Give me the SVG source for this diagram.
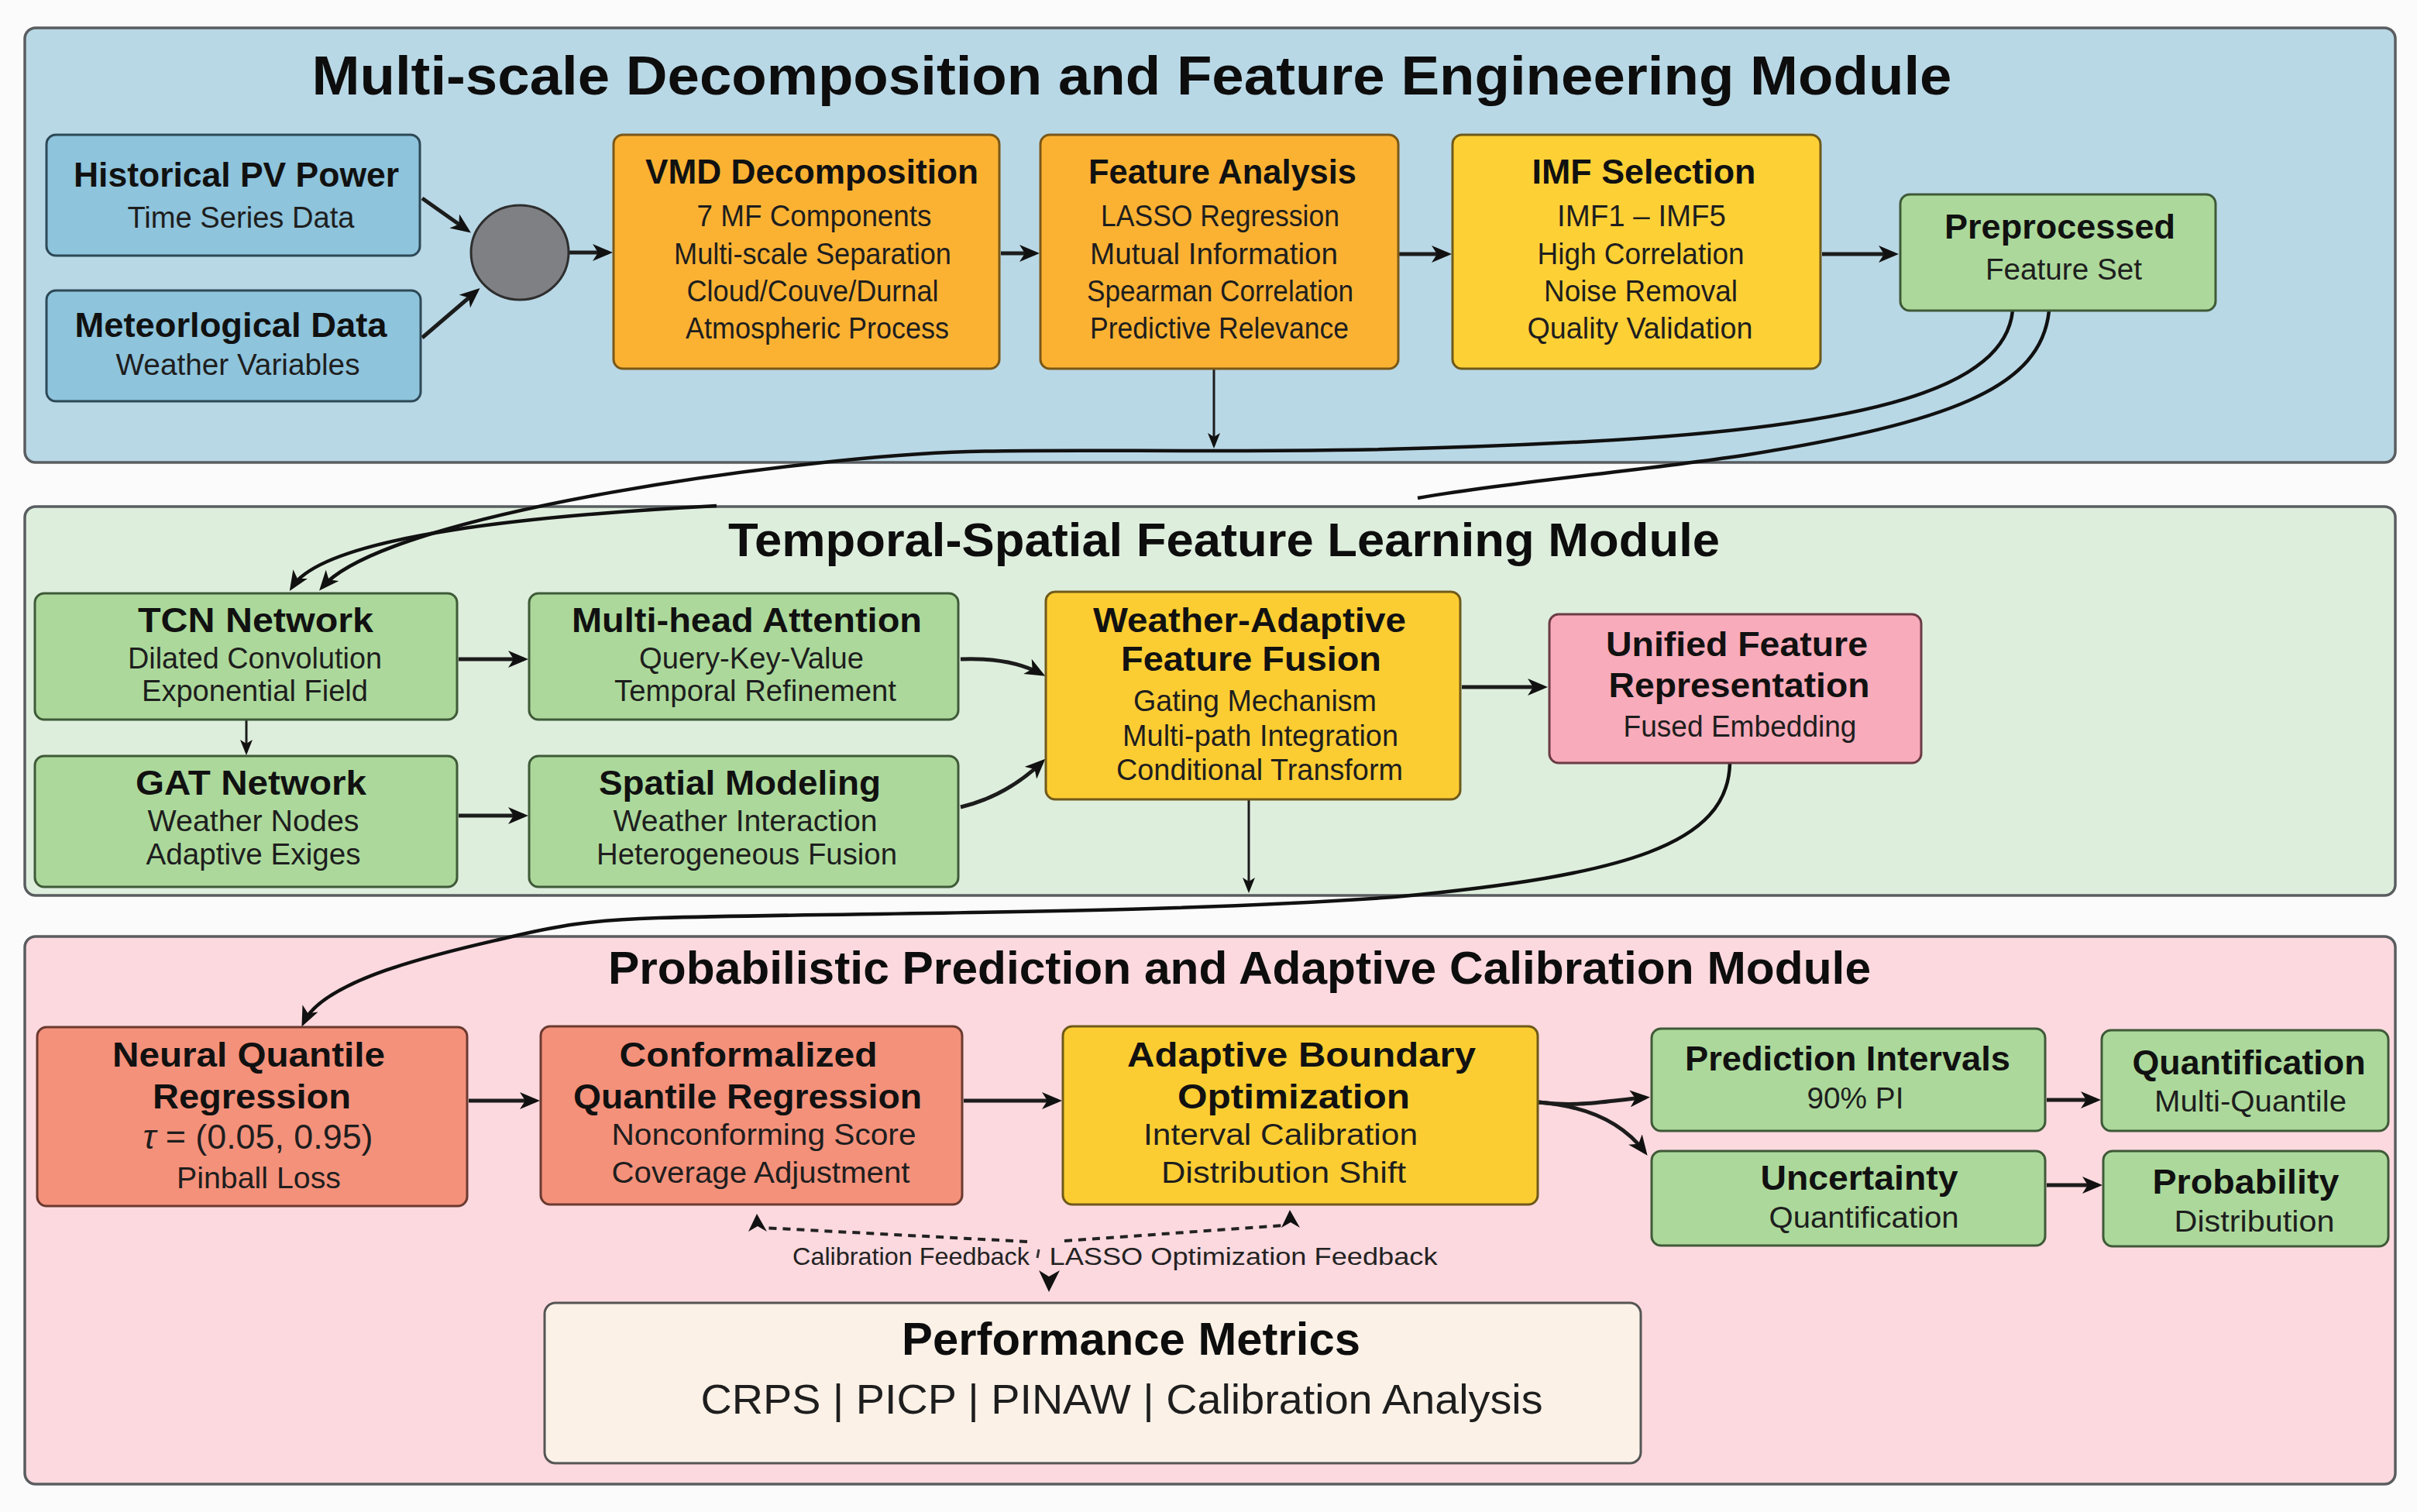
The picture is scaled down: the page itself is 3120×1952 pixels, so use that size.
<svg xmlns="http://www.w3.org/2000/svg" width="3120" height="1952" viewBox="0 0 3120 1952">
<defs>
<style>
.t{font-family:"Liberation Sans",Arial,Helvetica,sans-serif;text-anchor:middle}
.h{font-weight:bold;fill:#0d0d0d}
.b{font-weight:bold;font-size:45px;fill:#111}
.s{font-size:38px;fill:#1e1e1e}
.panel{stroke:#5a5d60;stroke-width:3.5}
.nd{stroke-width:3}
.blue{fill:#8ec4dc;stroke:#2d4856}
.orange{fill:#fbb233;stroke:#7a5818}
.yellow{fill:#fdd036;stroke:#6f5a1a}
.green{fill:#acd99b;stroke:#3f5a38}
.pink{fill:#f8abba;stroke:#6b3b46}
.salmon{fill:#f4917b;stroke:#6b3a30}
.cream{fill:#fbf1e7;stroke:#555}
.c{fill:none;stroke:#1c1c1c;stroke-width:5;marker-end:url(#ah)}
.cv{fill:none;stroke:#111;stroke-width:4.5;marker-end:url(#ah)}
.thin{fill:none;stroke:#1c1c1c;stroke-width:3;marker-end:url(#ahs)}
.dash{fill:none;stroke:#222;stroke-width:4;stroke-dasharray:10 8}
.ahd{fill:#111}
</style>
<marker id="ah" viewBox="0 0 26 22" markerWidth="26" markerHeight="22" refX="20" refY="11" orient="auto" markerUnits="userSpaceOnUse"><path d="M0,0 L26,11 L0,22 L7,11 z" fill="#111"/></marker>
<marker id="ahs" viewBox="0 0 20 16" markerWidth="20" markerHeight="16" refX="16" refY="8" orient="auto" markerUnits="userSpaceOnUse"><path d="M0,0 L20,8 L0,16 L5,8 z" fill="#111"/></marker>
</defs>

<rect x="0" y="0" width="3120" height="1952" fill="#fbfbfb"/>

<g id="panels">
<rect class="panel" x="32" y="36" width="3060" height="561" rx="14" fill="#b9d8e6"/>
<rect class="panel" x="32" y="654" width="3060" height="502" rx="14" fill="#deeedd"/>
<rect class="panel" x="32" y="1209" width="3060" height="707" rx="14" fill="#fcd9df"/>
<text class="t h" x="1461" y="122" font-size="70" textLength="2117" lengthAdjust="spacingAndGlyphs">Multi-scale Decomposition and Feature Engineering Module</text>
<text class="t h" x="1580" y="718" font-size="62" textLength="1280" lengthAdjust="spacingAndGlyphs">Temporal-Spatial Feature Learning Module</text>
<text class="t h" x="1600" y="1270" font-size="59" textLength="1630" lengthAdjust="spacingAndGlyphs">Probabilistic Prediction and Adaptive Calibration Module</text>
</g>

<g id="connectors">
<line class="c" x1="545" y1="256" x2="603" y2="297"/>
<line class="c" x1="545" y1="436" x2="615" y2="376"/>
<line class="c" x1="735" y1="326" x2="785" y2="326"/>
<line class="c" x1="1292" y1="327" x2="1336" y2="327"/>
<line class="c" x1="1806" y1="328" x2="1868" y2="328"/>
<line class="c" x1="2352" y1="328" x2="2445" y2="328"/>
<line class="thin" x1="1567" y1="477" x2="1567" y2="575"/>
<path class="cv" d="M2598,401 C2588,500 2420,550 2050,570 C1680,590 1450,578 1250,583 C1050,588 500,660 416,758"/>
<path class="cv" d="M2645,401 C2635,500 2520,545 2250,588 C2100,610 1950,622 1830,643 M925,653 C700,665 420,690 377,758"/>
<line class="c" x1="592" y1="851" x2="676" y2="851"/>
<line class="thin" x1="318" y1="930" x2="318" y2="971"/>
<line class="c" x1="592" y1="1053" x2="676" y2="1053"/>
<path class="c" d="M1240,851 C1290,849 1322,858 1344,870"/>
<path class="c" d="M1240,1042 C1290,1030 1322,1006 1345,984"/>
<line class="c" x1="1887" y1="887" x2="1992" y2="887"/>
<line class="thin" x1="1612" y1="1033" x2="1612" y2="1149"/>
<path class="cv" d="M2233,986 C2230,1090 2100,1130 1800,1158 C1500,1180 1100,1178 850,1185 C760,1188 720,1195 657,1210 C594,1225 420,1260 392,1320"/>
<line class="c" x1="605" y1="1421" x2="691" y2="1421"/>
<line class="c" x1="1244" y1="1421" x2="1365" y2="1421"/>
<path class="c" d="M1986,1423 C2040,1430 2080,1420 2124,1417"/>
<path class="c" d="M1986,1423 C2050,1428 2095,1450 2123,1487"/>
<line class="c" x1="2642" y1="1420" x2="2706" y2="1420"/>
<line class="c" x1="2642" y1="1530" x2="2708" y2="1530"/>
<path class="dash" d="M1326,1603 L985,1585"/>
<path class="dash" d="M1374,1602 L1657,1582"/>
<polygon class="ahd" points="977,1567 966,1590 978,1583 990,1590"/>
<polygon class="ahd" points="1665,1562 1654,1585 1666,1578 1678,1585"/>
<polygon class="ahd" points="1354,1668 1341,1640 1354,1648 1368,1640"/>
<line x1="1341" y1="1613" x2="1339" y2="1624" stroke="#333" stroke-width="3"/>
<text class="t" x="1176" y="1633" font-size="32" fill="#222" textLength="306" lengthAdjust="spacingAndGlyphs">Calibration Feedback</text>
<text class="t" x="1605" y="1633" font-size="32" fill="#222" textLength="501" lengthAdjust="spacingAndGlyphs">LASSO Optimization Feedback</text>
</g>

<g id="n-hpv">
<rect class="nd blue" x="60" y="174" width="482" height="156" rx="12"/>
<text class="t b" x="305" y="241" textLength="420" lengthAdjust="spacingAndGlyphs">Historical PV Power</text>
<text class="t s" x="311" y="294" textLength="293" lengthAdjust="spacingAndGlyphs">Time Series Data</text>
</g>
<g id="n-met">
<rect class="nd blue" x="60" y="375" width="483" height="143" rx="12"/>
<text class="t b" x="298" y="435" textLength="403" lengthAdjust="spacingAndGlyphs">Meteorlogical Data</text>
<text class="t s" x="307" y="484" textLength="315" lengthAdjust="spacingAndGlyphs">Weather Variables</text>
</g>
<g id="n-join">
<ellipse cx="671" cy="326" rx="63" ry="61" fill="#7f8084" stroke="#2e2e2e" stroke-width="3"/>
</g>
<g id="n-vmd">
<rect class="nd orange" x="792" y="174" width="498" height="302" rx="12"/>
<text class="t b" x="1048" y="237" textLength="430" lengthAdjust="spacingAndGlyphs">VMD Decomposition</text>
<text class="t s" x="1051" y="292" textLength="303" lengthAdjust="spacingAndGlyphs">7 MF Components</text>
<text class="t s" x="1049" y="341" textLength="358" lengthAdjust="spacingAndGlyphs">Multi-scale Separation</text>
<text class="t s" x="1049" y="389" textLength="325" lengthAdjust="spacingAndGlyphs">Cloud/Couve/Durnal</text>
<text class="t s" x="1055" y="437" textLength="340" lengthAdjust="spacingAndGlyphs">Atmospheric Process</text>
</g>
<g id="n-fa">
<rect class="nd orange" x="1343" y="174" width="462" height="302" rx="12"/>
<text class="t b" x="1578" y="237" textLength="346" lengthAdjust="spacingAndGlyphs">Feature Analysis</text>
<text class="t s" x="1575" y="292" textLength="308" lengthAdjust="spacingAndGlyphs">LASSO Regression</text>
<text class="t s" x="1567" y="341" textLength="320" lengthAdjust="spacingAndGlyphs">Mutual Information</text>
<text class="t s" x="1575" y="389" textLength="344" lengthAdjust="spacingAndGlyphs">Spearman Correlation</text>
<text class="t s" x="1574" y="437" textLength="334" lengthAdjust="spacingAndGlyphs">Predictive Relevance</text>
</g>
<g id="n-imf">
<rect class="nd yellow" x="1875" y="174" width="475" height="302" rx="12"/>
<text class="t b" x="2122" y="237" textLength="289" lengthAdjust="spacingAndGlyphs">IMF Selection</text>
<text class="t s" x="2119" y="292" textLength="218" lengthAdjust="spacingAndGlyphs">IMF1 – IMF5</text>
<text class="t s" x="2118" y="341" textLength="267" lengthAdjust="spacingAndGlyphs">High Correlation</text>
<text class="t s" x="2118" y="389" textLength="250" lengthAdjust="spacingAndGlyphs">Noise Removal</text>
<text class="t s" x="2117" y="437" textLength="291" lengthAdjust="spacingAndGlyphs">Quality Validation</text>
</g>
<g id="n-pre">
<rect class="nd green" x="2453" y="251" width="407" height="150" rx="12"/>
<text class="t b" x="2659" y="308" textLength="298" lengthAdjust="spacingAndGlyphs">Preprocessed</text>
<text class="t s" x="2664" y="361" textLength="202" lengthAdjust="spacingAndGlyphs">Feature Set</text>
</g>

<g id="n-tcn">
<rect class="nd green" x="45" y="766" width="545" height="163" rx="12"/>
<text class="t b" x="330" y="816" font-size="47" textLength="304" lengthAdjust="spacingAndGlyphs">TCN Network</text>
<text class="t s" x="329" y="863" textLength="328" lengthAdjust="spacingAndGlyphs">Dilated Convolution</text>
<text class="t s" x="329" y="905" textLength="292" lengthAdjust="spacingAndGlyphs">Exponential Field</text>
</g>
<g id="n-mha">
<rect class="nd green" x="683" y="766" width="554" height="163" rx="12"/>
<text class="t b" x="964" y="816" font-size="47" textLength="452" lengthAdjust="spacingAndGlyphs">Multi-head Attention</text>
<text class="t s" x="970" y="863" textLength="290" lengthAdjust="spacingAndGlyphs">Query-Key-Value</text>
<text class="t s" x="975" y="905" textLength="364" lengthAdjust="spacingAndGlyphs">Temporal Refinement</text>
</g>
<g id="n-gat">
<rect class="nd green" x="45" y="976" width="545" height="169" rx="12"/>
<text class="t b" x="324" y="1026" font-size="47" textLength="298" lengthAdjust="spacingAndGlyphs">GAT Network</text>
<text class="t s" x="327" y="1073" textLength="273" lengthAdjust="spacingAndGlyphs">Weather Nodes</text>
<text class="t s" x="327" y="1116" textLength="277" lengthAdjust="spacingAndGlyphs">Adaptive Exiges</text>
</g>
<g id="n-sm">
<rect class="nd green" x="683" y="976" width="554" height="169" rx="12"/>
<text class="t b" x="955" y="1026" font-size="47" textLength="364" lengthAdjust="spacingAndGlyphs">Spatial Modeling</text>
<text class="t s" x="962" y="1073" textLength="341" lengthAdjust="spacingAndGlyphs">Weather Interaction</text>
<text class="t s" x="964" y="1116" textLength="388" lengthAdjust="spacingAndGlyphs">Heterogeneous Fusion</text>
</g>
<g id="n-waff">
<rect class="nd yellow" x="1350" y="764" width="535" height="268" rx="12" style="fill:#fccd33"/>
<text class="t b" x="1613" y="816" font-size="47" textLength="404" lengthAdjust="spacingAndGlyphs">Weather-Adaptive</text>
<text class="t b" x="1615" y="866" font-size="47" textLength="336" lengthAdjust="spacingAndGlyphs">Feature Fusion</text>
<text class="t s" x="1620" y="918" textLength="314" lengthAdjust="spacingAndGlyphs">Gating Mechanism</text>
<text class="t s" x="1627" y="963" textLength="356" lengthAdjust="spacingAndGlyphs">Multi-path Integration</text>
<text class="t s" x="1626" y="1007" textLength="370" lengthAdjust="spacingAndGlyphs">Conditional Transform</text>
</g>
<g id="n-ufr">
<rect class="nd pink" x="2000" y="793" width="480" height="192" rx="12"/>
<text class="t b" x="2242" y="847" font-size="47" textLength="338" lengthAdjust="spacingAndGlyphs">Unified Feature</text>
<text class="t b" x="2245" y="900" font-size="47" textLength="337" lengthAdjust="spacingAndGlyphs">Representation</text>
<text class="t s" x="2246" y="951" textLength="301" lengthAdjust="spacingAndGlyphs">Fused Embedding</text>
</g>

<g id="n-nqr">
<rect class="nd salmon" x="48" y="1326" width="555" height="231" rx="12"/>
<text class="t b" x="321" y="1377" font-size="47" textLength="352" lengthAdjust="spacingAndGlyphs">Neural Quantile</text>
<text class="t b" x="325" y="1431" font-size="47" textLength="256" lengthAdjust="spacingAndGlyphs">Regression</text>
<text class="t" x="333" y="1483" font-size="44" fill="#1e1e1e" textLength="297" lengthAdjust="spacingAndGlyphs"><tspan font-style="italic">τ</tspan> = (0.05, 0.95)</text>
<text class="t s" x="334" y="1534" textLength="212" lengthAdjust="spacingAndGlyphs">Pinball Loss</text>
</g>
<g id="n-cqr">
<rect class="nd salmon" x="698" y="1325" width="544" height="230" rx="12"/>
<text class="t b" x="966" y="1377" font-size="47" textLength="333" lengthAdjust="spacingAndGlyphs">Conformalized</text>
<text class="t b" x="965" y="1431" font-size="47" textLength="450" lengthAdjust="spacingAndGlyphs">Quantile Regression</text>
<text class="t s" x="986" y="1478" textLength="393" lengthAdjust="spacingAndGlyphs">Nonconforming Score</text>
<text class="t s" x="982" y="1527" textLength="385" lengthAdjust="spacingAndGlyphs">Coverage Adjustment</text>
</g>
<g id="n-abo">
<rect class="nd yellow" x="1372" y="1325" width="613" height="230" rx="12" style="fill:#fccd33"/>
<text class="t b" x="1680" y="1377" font-size="47" textLength="450" lengthAdjust="spacingAndGlyphs">Adaptive Boundary</text>
<text class="t b" x="1670" y="1431" font-size="47" textLength="300" lengthAdjust="spacingAndGlyphs">Optimization</text>
<text class="t s" x="1653" y="1478" textLength="354" lengthAdjust="spacingAndGlyphs">Interval Calibration</text>
<text class="t s" x="1657" y="1527" textLength="316" lengthAdjust="spacingAndGlyphs">Distribution Shift</text>
</g>
<g id="n-pi">
<rect class="nd green" x="2132" y="1328" width="508" height="132" rx="12"/>
<text class="t b" x="2385" y="1382" textLength="420" lengthAdjust="spacingAndGlyphs">Prediction Intervals</text>
<text class="t s" x="2395" y="1431" textLength="125" lengthAdjust="spacingAndGlyphs">90% PI</text>
</g>
<g id="n-quant">
<rect class="nd green" x="2713" y="1330" width="370" height="130" rx="12"/>
<text class="t b" x="2903" y="1387" textLength="301" lengthAdjust="spacingAndGlyphs">Quantification</text>
<text class="t s" x="2905" y="1435" textLength="248" lengthAdjust="spacingAndGlyphs">Multi-Quantile</text>
</g>
<g id="n-unc">
<rect class="nd green" x="2132" y="1486" width="508" height="122" rx="12"/>
<text class="t b" x="2400" y="1536" textLength="255" lengthAdjust="spacingAndGlyphs">Uncertainty</text>
<text class="t s" x="2406" y="1585" textLength="245" lengthAdjust="spacingAndGlyphs">Quantification</text>
</g>
<g id="n-prob">
<rect class="nd green" x="2715" y="1486" width="368" height="123" rx="12"/>
<text class="t b" x="2899" y="1541" textLength="241" lengthAdjust="spacingAndGlyphs">Probability</text>
<text class="t s" x="2910" y="1590" textLength="207" lengthAdjust="spacingAndGlyphs">Distribution</text>
</g>
<g id="n-perf">
<rect class="nd cream" x="703" y="1682" width="1415" height="207" rx="14"/>
<text class="t h" x="1460" y="1749" font-size="60" textLength="592" lengthAdjust="spacingAndGlyphs">Performance Metrics</text>
<text class="t" x="1448" y="1825" font-size="54" fill="#1e1e1e" textLength="1087" lengthAdjust="spacingAndGlyphs">CRPS | PICP | PINAW | Calibration Analysis</text>
</g>
</svg>
